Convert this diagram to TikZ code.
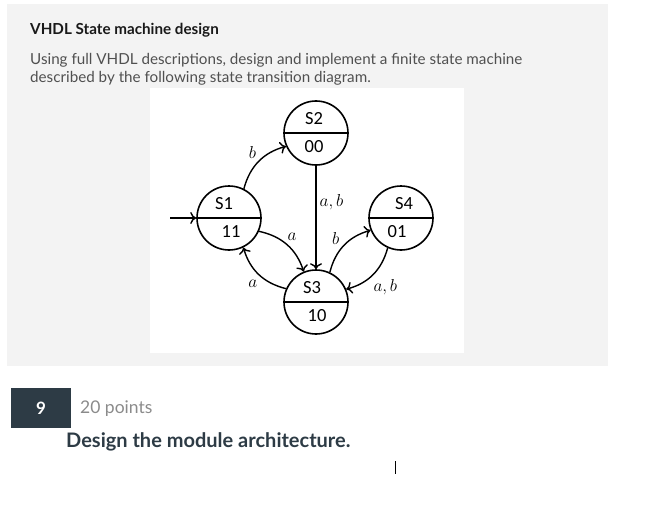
\documentclass[tikz,border=0pt]{standalone}
\usepackage{amsmath}
\usepackage{amssymb}
\usepackage{fontspec}
\setmainfont{Lato}
\newfontfamily\statefont{Carlito}
\usepackage{tikz}
\usetikzlibrary{arrows.meta}
\definecolor{panelgray}{HTML}{F3F3F3}
\definecolor{canvasdark}{HTML}{2D3B45}
\definecolor{bodygray}{HTML}{505050}
\definecolor{pointsgray}{HTML}{8B8B8B}
\begin{document}
\begin{tikzpicture}[x=1pt,y=-1pt,
  every node/.style={inner sep=0pt},
  state/.style={circle,draw=black,line width=1.6pt,minimum size=64pt},
  statetxt/.style={font=\statefont\fontsize{18.5}{18.5}\selectfont},
  edge/.style={line width=1.4pt,-{To[length=6pt,width=12pt]}},
  lbl/.style={font=\fontsize{17.5}{17.5}\selectfont}]
\useasboundingbox (0,0) rectangle (648,511);
\fill [panelgray] (7,4) rectangle (608,366);
\fill [white] (150,88) rectangle (464,353);
\node [anchor=base west,font=\bfseries\fontsize{15.2}{17}\selectfont,text=black!90] (title) at (30,35) {VHDL State machine design};
\node [anchor=base west,font=\fontsize{15.2}{18}\selectfont,text=bodygray] (task1) at (30,65) {Using full VHDL descriptions, design and implement a finite state machine};
\node [anchor=base west,font=\fontsize{15.2}{18}\selectfont,text=bodygray] (task2) at (30,83) {described by the following state transition diagram.};
\node [state] (s2) at (316,133) {};
\node [state] (s1) at (229,218) {};
\node [state] (s4) at (401,218) {};
\node [state] (s3) at (316,302) {};
\draw [line width=1.7pt] (s1.west) -- (s1.east);
\draw [line width=1.7pt] (s2.west) -- (s2.east);
\draw [line width=1.7pt] (s3.west) -- (s3.east);
\draw [line width=1.7pt] (s4.west) -- (s4.east);
\node [statetxt] (s1up) at ([xshift=-5pt,yshift=14pt]s1.center) {S1};
\node [statetxt] (s1lo) at ([xshift=2pt,yshift=-14pt]s1.center) {11};
\node [statetxt] (s2up) at ([xshift=-2pt,yshift=14pt]s2.center) {S2};
\node [statetxt] (s2lo) at ([xshift=-2pt,yshift=-14pt]s2.center) {00};
\node [statetxt] (s3up) at ([xshift=-4pt,yshift=14pt]s3.center) {S3};
\node [statetxt] (s3lo) at ([xshift=1pt,yshift=-14pt]s3.center) {10};
\node [statetxt] (s4up) at ([xshift=3pt,yshift=14pt]s4.center) {S4};
\node [statetxt] (s4lo) at ([xshift=-4pt,yshift=-14pt]s4.center) {01};
\coordinate (init) at (170,218);
\draw [edge] (init) -- (s1.west);
\draw [edge] (s1.63) to[bend left=30] node[lbl,above left=2pt,pos=0.5] {$b$} (s2.204);
\draw [edge] (s2.south) -- node[lbl,right=3pt,pos=0.35] {$a,b$} (s3.north);
\draw [edge] (s1.-24) to[bend left=30] node[lbl,above right=2pt,pos=0.45] {$a$} (s3.112);
\draw [edge] (s3.156) to[bend left=30] node[lbl,below left=3pt,pos=0.45] {$a$} (s1.-64);
\draw [edge] (s3.65) to[bend left=30] node[lbl,above left=2pt,pos=0.45] {$b$} (s4.202);
\draw [edge] (s4.246) to[bend left=30] node[lbl,below right=2pt,pos=0.55] {$a,b$} (s3.23);
\fill [canvasdark] (11,388) rectangle (71,428);
\node [font=\bfseries\fontsize{17}{17}\selectfont,text=white] (qnum) at (41,408) {9};
\node [anchor=base west,font=\fontsize{17.5}{18}\selectfont,text=pointsgray] (pts) at (80,413) {20 points};
\node [anchor=base west,font=\bfseries\fontsize{20}{20}\selectfont,text=canvasdark] (ask) at (66,447) {Design the module architecture.};
\draw [line width=1pt] (395,461) -- (395,474);
\end{tikzpicture}
\end{document}
